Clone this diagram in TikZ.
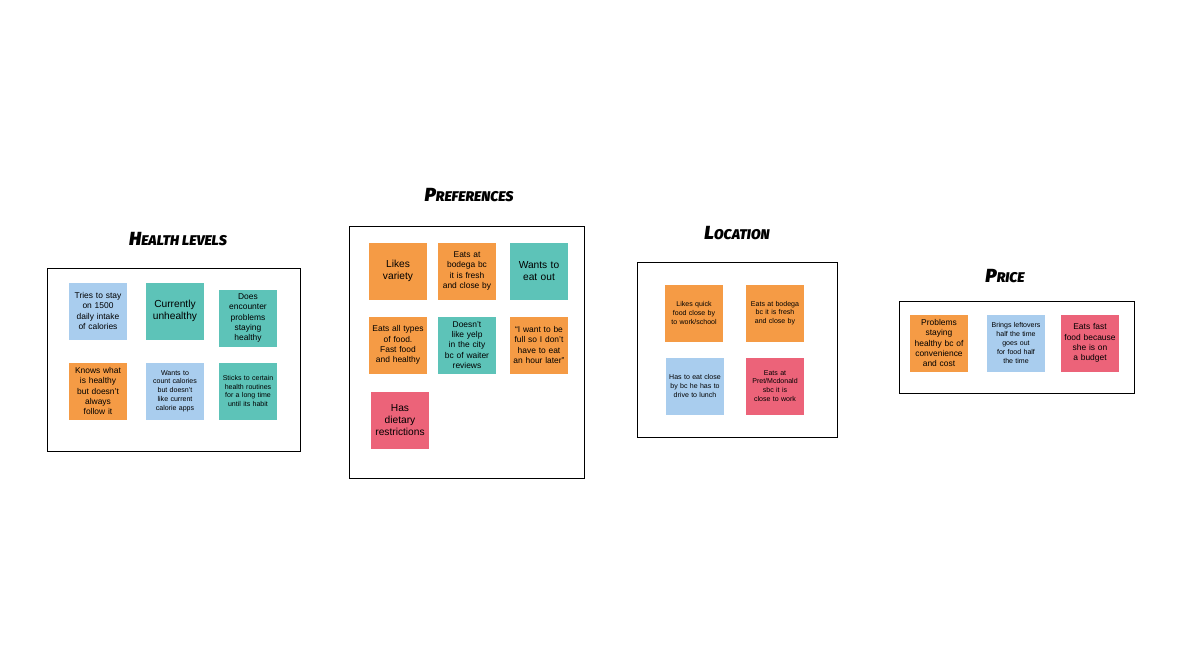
\documentclass[tikz,border=0pt]{standalone}
\usepackage{fontspec}
\setmainfont{Liberation Sans}
\newfontfamily\titlefont{Fira Sans Black}
\usetikzlibrary{positioning}
\definecolor{notorange}{HTML}{F59B45}
\definecolor{notteal}{HTML}{5DC3B8}
\definecolor{notblue}{HTML}{A9CDEE}
\definecolor{notpink}{HTML}{EC6379}
\newcommand{\fakesc}[2]{{\fontsize{27}{28}\selectfont #1}{\fontsize{20}{21}\selectfont\MakeUppercase{#2}}}
\tikzset{
  note/.style={minimum width=2.9cm, minimum height=2.85cm, text width=2.6cm, align=center, inner sep=1pt},
  tiny/.style={font=\fontsize{10}{12.5}\selectfont},
  small/.style={font=\fontsize{12}{14.5}\selectfont},
  big/.style={font=\fontsize{14.5}{17.5}\selectfont},
  box/.style={draw, line width=1.1pt},
  heading/.style={font=\titlefont\itshape}
}
\begin{document}
\hyphenpenalty=10000 \exhyphenpenalty=10000
\begin{tikzpicture}[x=0.05cm, y=-0.05cm]
    \useasboundingbox (0,0) rectangle (1200,646);

    % Health levels
    \node[heading] (hHealth) at (178,239) {\fakesc{H}{ealth levels}};
    \draw[box] (47,268) rectangle (300,451);
    \node[note, fill=notblue, small] (h1) at (98,311) {Tries to stay on 1500 daily intake of calories};
    \node[note, fill=notteal, big] (h2) at (175,311) {Currently unhealthy};
    \node[note, fill=notteal, small] (h3) at (248,318) {Does encounter problems staying healthy};
    \node[note, fill=notorange, small] (h4) at (98,391) {Knows what is healthy but doesn't always follow it};
    \node[note, fill=notblue, tiny] (h5) at (175,391) {Wants to count calories but doesn't like current calorie apps};
    \node[note, fill=notteal, tiny] (h6) at (248,391) {Sticks to certain health routines for a long time until its habit};

    % Preferences
    \node[heading] (hPref) at (469,195) {\fakesc{P}{references}};
    \draw[box] (349,226) rectangle (584,478);
    \node[note, fill=notorange, big] (p1) at (398,271) {Likes\\variety};
    \node[note, fill=notorange, small] (p2) at (467,271) {Eats at bodega bc it is fresh and close by};
    \node[note, fill=notteal, big] (p3) at (539,271) {Wants to eat out};
    \node[note, fill=notorange, small] (p4) at (398,345) {Eats all types of food. Fast food and healthy};
    \node[note, fill=notteal, small] (p5) at (467,345) {Doesn't like yelp in the city\\bc of waiter reviews};
    \node[note, fill=notorange, small] (p6) at (539,345) {``I want to be full so I don't have to eat an hour later''};
    \node[note, fill=notpink, big] (p7) at (400,420) {Has dietary restrictions};

    % Location
    \node[heading] (hLoc) at (737,233) {\fakesc{L}{ocation}};
    \draw[box] (637,262) rectangle (837,437);
    \node[note, fill=notorange, tiny] (l1) at (694,313) {Likes quick food close by to work/school};
    \node[note, fill=notorange, tiny] (l2) at (775,313) {Eats at bodega bc it is fresh and close by};
    \node[note, fill=notblue, tiny] (l3) at (695,386) {Has to eat close by bc he has to drive to lunch};
    \node[note, fill=notpink, tiny] (l4) at (775,386) {Eats at Pret/Mcdonald sbc it is close to work};

    % Price
    \node[heading] (hPrice) at (1005,276) {\fakesc{P}{rice}};
    \draw[box] (899,301) rectangle (1134,393);
    \node[note, fill=notorange, small] (r1) at (939,343) {Problems staying healthy bc of convenience and cost};
    \node[note, fill=notblue, tiny] (r2) at (1016,343) {Brings leftovers half the time goes out for food half the time};
    \node[note, fill=notpink, small] (r3) at (1090,343) {Eats fast food because she is on a budget};
\end{tikzpicture}
\end{document}
